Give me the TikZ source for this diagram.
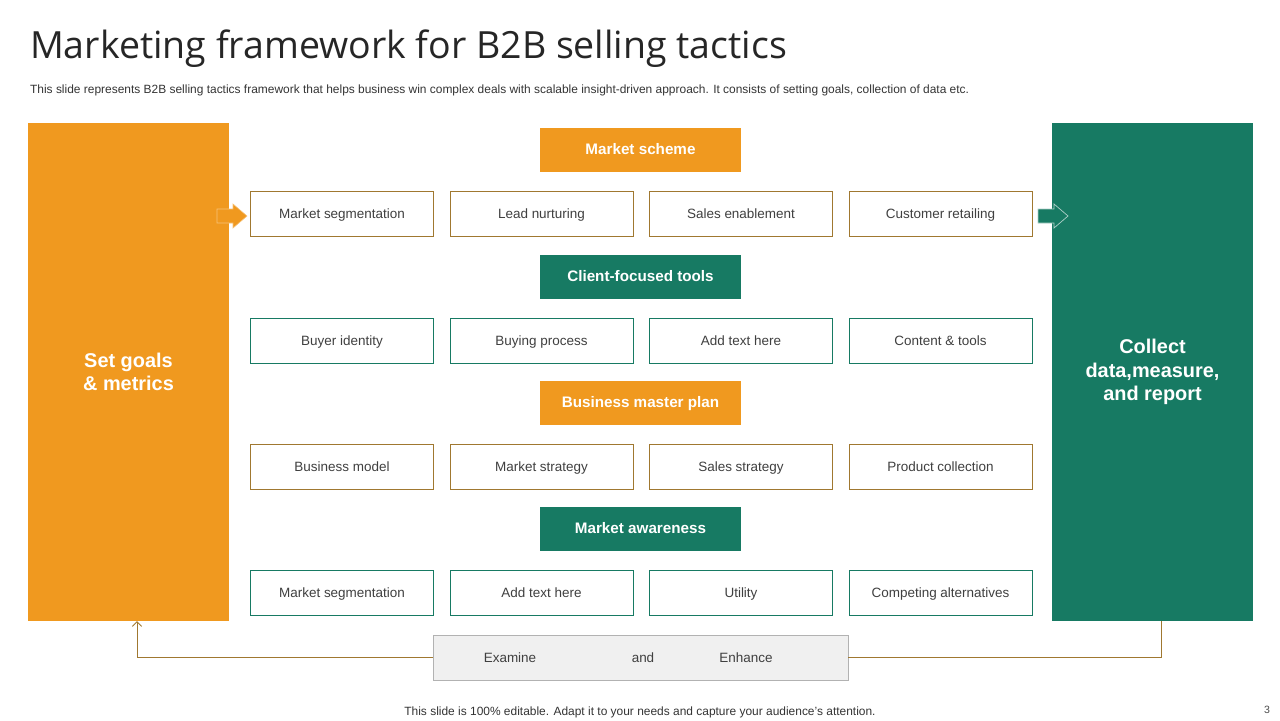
\documentclass[tikz,border=0pt]{standalone}
\usepackage{fontspec}
\setmainfont{Liberation Sans}
\newfontfamily\titlefont{Open Sans}
\usetikzlibrary{arrows.meta}
\definecolor{mkorange}{HTML}{F0991F}
\definecolor{mkgreen}{HTML}{177A63}
\definecolor{mkline}{HTML}{A07830}
\begin{document}
\begin{tikzpicture}[x=0.03cm, y=-0.03cm,
    side/.style={minimum width=201*0.03cm, minimum height=498*0.03cm, inner sep=0pt,
      text=white, font=\bfseries\fontsize{17}{20}\selectfont, align=center},
    head/.style={minimum width=201*0.03cm, minimum height=44*0.03cm, inner sep=0pt,
      text=white, font=\bfseries\fontsize{13}{15}\selectfont, text height=10pt, text depth=1.5pt},
    item/.style={draw=#1, fill=white, line width=0.6pt, minimum width=183*0.03cm,
      minimum height=45*0.03cm, inner sep=0pt, font=\fontsize{11.5}{14}\selectfont,
      text=black!75, text height=9.5pt, text depth=1pt},
    bigarrow/.pic={\path[pic actions] (-15,-7) -- (1,-7) -- (1,-12) -- (15,0) -- (1,12) -- (1,7) -- (-15,7) -- cycle;}]
  \useasboundingbox (0,0) rectangle (1280,720);
  \node[anchor=west, font=\titlefont\fontsize{32}{36}\selectfont, text=black!85] (title) at (26,49) {Marketing framework for B2B selling tactics};
  \node[anchor=west, font=\fontsize{10.2}{12}\selectfont, text=black!80] (sub) at (26,90) {This slide represents B2B selling tactics framework that helps business win complex deals with scalable insight-driven approach. It consists of setting goals, collection of data etc.};

  \node[side, fill=mkorange] (goals) at (128.5,372) {Set goals\\ \& metrics};
  \node[side, fill=mkgreen] (collect) at (1152.5,372) {Collect\\ data,measure,\\ and report};

  \node[head, fill=mkorange] (h1) at (640.5,150) {Market scheme};
  \node[head, fill=mkgreen]  (h2) at (640.5,277) {Client-focused tools};
  \node[head, fill=mkorange] (h3) at (640.5,403) {Business master plan};
  \node[head, fill=mkgreen]  (h4) at (640.5,529) {Market awareness};

  % rows of boxes
  \foreach \y/\c/\a/\b/\d/\e [count=\r] in {
      213.5/mkline/Market segmentation/Lead nurturing/Sales enablement/Customer retailing,
      340.5/mkgreen/Buyer identity/Buying process/Add text here/Content \& tools,
      466.5/mkline/Business model/Market strategy/Sales strategy/Product collection,
      592.5/mkgreen/Market segmentation/Add text here/Utility/Competing alternatives} {
    \node[item=\c] (b\r a) at (342,\y) {\a};
    \node[item=\c] (b\r b) at (541.5,\y) {\b};
    \node[item=\c] (b\r c) at (741,\y) {\d};
    \node[item=\c] (b\r d) at (940.5,\y) {\e};
  }

  \pic[fill=mkorange, draw=mkorange!60!white, line width=0.5pt] at (232,216) {bigarrow};
  \pic[fill=mkgreen, draw=mkgreen!35!white, line width=0.6pt] at (1053,216) {bigarrow};

  \node[draw=black!30, fill=black!6, minimum width=415*0.03cm, minimum height=45*0.03cm,
    inner sep=0pt] (loop) at (640.5,657.5) {};
  \node[font=\fontsize{11.5}{14}\selectfont, text=black!75] (ex) at (510,657.5) {Examine};
  \node[font=\fontsize{11.5}{14}\selectfont, text=black!75] (and) at (643,657.5) {and};
  \node[font=\fontsize{11.5}{14}\selectfont, text=black!75] (en) at (746,657.5) {Enhance};

  \coordinate (gin) at (137,621);
  \coordinate (cout) at (1161,621);
  \draw[mkline, line width=0.8pt, -{Straight Barb[length=4pt]}] (loop.west) -| (gin);
  \draw[mkline, line width=0.8pt] (loop.east) -| (cout);

  \node[font=\fontsize{10.2}{12}\selectfont, text=black!80] (foot) at (640,712) {This slide is 100\% editable. Adapt it to your needs and capture your audience's attention.};
  \node[font=\fontsize{9}{10}\selectfont, text=black!70] (page) at (1267,710) {3};
\end{tikzpicture}
\end{document}
